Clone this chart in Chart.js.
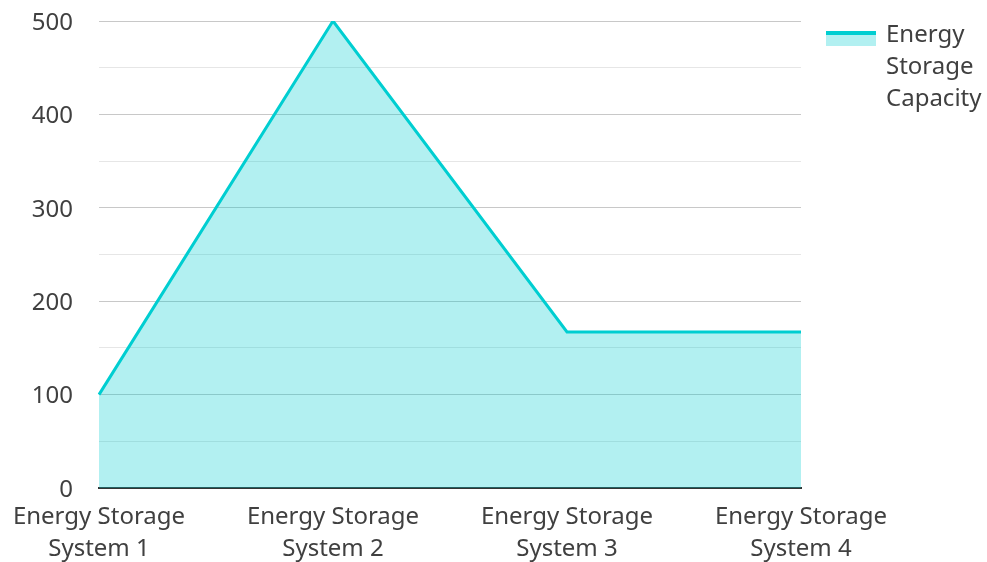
<!DOCTYPE html>
<html>
<head>
<meta charset="utf-8">
<script src="https://cdn.jsdelivr.net/npm/chart.js@4/dist/chart.umd.min.js"></script>
<style>
  html, body { margin: 0; padding: 0; background: #ffffff; }
  #wrap { width: 987px; height: 562px; position: relative; }
</style>
</head>
<body>
<div id="wrap"><canvas id="chart" width="987" height="562"></canvas></div>
<script>
// Energy storage systems and their capacity
const categories = [
  ['Energy Storage', 'System 1'],
  ['Energy Storage', 'System 2'],
  ['Energy Storage', 'System 3'],
  ['Energy Storage', 'System 4']
];
const capacityValues = [100, 500, 167, 167];
const seriesName = 'Energy Storage Capacity';
const legendLines = ['Energy', 'Storage', 'Capacity'];
const yTickLabels = [0, 100, 200, 300, 400, 500];

const FONT = '"Noto Sans", "Open Sans", sans-serif';
const TEXT = '#404040';
const LINE = '#00ced1';
const FILL = 'rgba(0, 206, 209, 0.3)';

// Legend drawn on the right, with the label wrapped over three lines
const sideLegend = {
  id: 'sideLegend',
  afterDraw(chart) {
    const ctx = chart.ctx;
    const x0 = chart.chartArea.right + 25;
    const y0 = 31;
    ctx.save();
    ctx.fillStyle = FILL;
    ctx.fillRect(x0, y0, 50, 15);
    ctx.fillStyle = LINE;
    ctx.fillRect(x0, y0, 50, 4);
    ctx.fillStyle = TEXT;
    ctx.font = '24px ' + FONT;
    ctx.textBaseline = 'middle';
    ctx.textAlign = 'left';
    legendLines.forEach((t, i) => ctx.fillText(t, x0 + 60, 35 + i * 32));
    ctx.restore();
  }
};

new Chart(document.getElementById('chart'), {
  type: 'line',
  data: {
    labels: categories,
    datasets: [{
      label: seriesName,
      data: capacityValues,
      borderColor: LINE,
      backgroundColor: FILL,
      borderWidth: 3,
      fill: 'origin',
      tension: 0,
      pointRadius: 0,
      pointHoverRadius: 0
    }]
  },
  options: {
    responsive: false,
    animation: false,
    layout: { padding: { left: 0, right: 186, top: 0, bottom: 0 } },
    plugins: {
      legend: { display: false },
      tooltip: { enabled: false }
    },
    scales: {
      x: {
        offset: false,
        grid: { display: false },
        border: { display: true, color: '#333333', width: 2 },
        ticks: {
          color: TEXT,
          font: { family: FONT, size: 24, lineHeight: 1.333 },
          maxRotation: 0,
          autoSkip: false,
          padding: 5
        },
        afterFit: (s) => {
          s.height = 74;
          s.paddingLeft = 0;
          s.paddingRight = 0;
        }
      },
      y: {
        min: 0,
        max: 500,
        border: { display: false },
        grid: {
          drawTicks: false,
          color: (c) => (c.tick && c.tick.value % 100 === 0) ? '#c8c8c8' : '#e6e6e6',
          lineWidth: 1
        },
        ticks: {
          stepSize: 50,
          padding: 26,
          labelOffset: 2,
          color: TEXT,
          font: { family: FONT, size: 24 },
          callback: (v) => yTickLabels.includes(v) ? String(v) : ''
        },
        afterFit: (s) => {
          s.width = 99;
          s.paddingTop = 21;
          s.paddingBottom = 0;
        }
      }
    }
  },
  plugins: [sideLegend]
});
</script>
</body>
</html>
